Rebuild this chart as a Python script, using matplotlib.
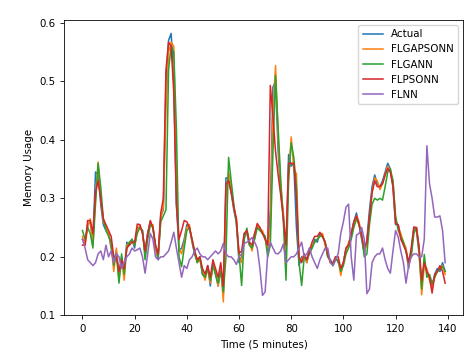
import numpy as np
import matplotlib
matplotlib.use("Agg")
import matplotlib.pyplot as plt

# values, one per 5-minute step
actual = [
    0.230, 0.225, 0.255, 0.260, 0.225, 0.345, 0.340, 0.290, 0.255, 0.245,
    0.240, 0.215, 0.190, 0.210, 0.170, 0.200, 0.175, 0.225, 0.220, 0.230,
    0.215, 0.250, 0.250, 0.245, 0.205, 0.240, 0.260, 0.250, 0.215, 0.195,
    0.270, 0.280, 0.500, 0.570, 0.582, 0.500, 0.290, 0.210, 0.215, 0.230,
    0.255, 0.250, 0.225, 0.205, 0.195, 0.200, 0.170, 0.165, 0.185, 0.150,
    0.190, 0.170, 0.150, 0.185, 0.135, 0.335, 0.335, 0.310, 0.280, 0.260,
    0.190, 0.200, 0.240, 0.240, 0.220, 0.215, 0.240, 0.250, 0.250, 0.240,
    0.235, 0.210, 0.280, 0.490, 0.500, 0.380, 0.310, 0.270, 0.200, 0.375,
    0.355, 0.360, 0.250, 0.185, 0.200, 0.200, 0.190, 0.215, 0.215, 0.230,
    0.225, 0.240, 0.235, 0.225, 0.200, 0.195, 0.185, 0.200, 0.190, 0.180,
    0.190, 0.215, 0.220, 0.240, 0.260, 0.275, 0.255, 0.230, 0.205, 0.230,
    0.280, 0.320, 0.340, 0.325, 0.320, 0.330, 0.345, 0.360, 0.350, 0.320,
    0.255, 0.255, 0.235, 0.225, 0.210, 0.180, 0.210, 0.250, 0.245, 0.205,
    0.150, 0.190, 0.175, 0.165, 0.150, 0.170, 0.180, 0.175, 0.190, 0.175,
]
flgapsonn = [
    0.235, 0.220, 0.250, 0.265, 0.220, 0.300, 0.362, 0.300, 0.260, 0.250,
    0.240, 0.220, 0.175, 0.215, 0.160, 0.195, 0.160, 0.220, 0.225, 0.225,
    0.220, 0.245, 0.255, 0.240, 0.210, 0.235, 0.255, 0.255, 0.210, 0.200,
    0.265, 0.285, 0.450, 0.550, 0.567, 0.560, 0.330, 0.215, 0.205, 0.225,
    0.250, 0.255, 0.225, 0.210, 0.190, 0.195, 0.175, 0.160, 0.180, 0.155,
    0.185, 0.175, 0.150, 0.180, 0.123, 0.300, 0.345, 0.320, 0.285, 0.265,
    0.200, 0.190, 0.235, 0.245, 0.225, 0.210, 0.235, 0.255, 0.245, 0.245,
    0.230, 0.215, 0.250, 0.450, 0.527, 0.400, 0.320, 0.275, 0.210, 0.340,
    0.405, 0.350, 0.342, 0.195, 0.195, 0.205, 0.190, 0.210, 0.220, 0.225,
    0.230, 0.235, 0.240, 0.220, 0.205, 0.190, 0.190, 0.195, 0.195, 0.168,
    0.190, 0.210, 0.225, 0.235, 0.255, 0.270, 0.260, 0.235, 0.210, 0.220,
    0.265, 0.310, 0.335, 0.330, 0.315, 0.325, 0.340, 0.355, 0.345, 0.330,
    0.265, 0.250, 0.240, 0.225, 0.215, 0.185, 0.205, 0.245, 0.250, 0.210,
    0.135, 0.185, 0.180, 0.160, 0.145, 0.165, 0.175, 0.180, 0.185, 0.170,
]
flgann = [
    0.245, 0.230, 0.250, 0.240, 0.215, 0.290, 0.360, 0.320, 0.265, 0.245,
    0.235, 0.225, 0.185, 0.205, 0.155, 0.205, 0.170, 0.215, 0.225, 0.230,
    0.220, 0.240, 0.250, 0.245, 0.195, 0.230, 0.255, 0.250, 0.220, 0.200,
    0.260, 0.270, 0.280, 0.520, 0.560, 0.550, 0.420, 0.200, 0.183, 0.215,
    0.245, 0.250, 0.230, 0.205, 0.190, 0.200, 0.170, 0.165, 0.180, 0.160,
    0.185, 0.170, 0.155, 0.175, 0.140, 0.200, 0.370, 0.330, 0.290, 0.255,
    0.205, 0.151, 0.230, 0.249, 0.220, 0.215, 0.230, 0.250, 0.245, 0.240,
    0.235, 0.200, 0.220, 0.380, 0.510, 0.420, 0.330, 0.260, 0.160, 0.330,
    0.395, 0.370, 0.320, 0.190, 0.151, 0.200, 0.195, 0.205, 0.215, 0.225,
    0.230, 0.235, 0.235, 0.225, 0.200, 0.195, 0.185, 0.195, 0.195, 0.175,
    0.185, 0.205, 0.215, 0.230, 0.250, 0.265, 0.255, 0.240, 0.200, 0.205,
    0.255, 0.290, 0.300, 0.297, 0.300, 0.297, 0.320, 0.345, 0.350, 0.330,
    0.270, 0.245, 0.235, 0.225, 0.210, 0.190, 0.200, 0.240, 0.250, 0.215,
    0.145, 0.204, 0.165, 0.170, 0.155, 0.165, 0.175, 0.180, 0.183, 0.175,
]
flpsonn = [
    0.220, 0.220, 0.262, 0.262, 0.240, 0.310, 0.330, 0.300, 0.265, 0.255,
    0.245, 0.235, 0.200, 0.200, 0.175, 0.195, 0.180, 0.215, 0.220, 0.225,
    0.225, 0.256, 0.255, 0.240, 0.210, 0.240, 0.262, 0.250, 0.220, 0.205,
    0.275, 0.300, 0.519, 0.567, 0.560, 0.480, 0.290, 0.230, 0.245, 0.262,
    0.260, 0.250, 0.230, 0.210, 0.195, 0.200, 0.180, 0.170, 0.185, 0.165,
    0.195, 0.180, 0.165, 0.190, 0.150, 0.325, 0.330, 0.310, 0.285, 0.265,
    0.206, 0.210, 0.240, 0.245, 0.225, 0.220, 0.240, 0.257, 0.250, 0.240,
    0.230, 0.220, 0.493, 0.440, 0.380, 0.340, 0.305, 0.265, 0.220, 0.360,
    0.360, 0.360, 0.300, 0.200, 0.190, 0.205, 0.195, 0.210, 0.225, 0.235,
    0.235, 0.242, 0.235, 0.225, 0.205, 0.190, 0.190, 0.200, 0.200, 0.180,
    0.190, 0.215, 0.220, 0.240, 0.260, 0.270, 0.255, 0.235, 0.215, 0.225,
    0.270, 0.310, 0.330, 0.320, 0.320, 0.325, 0.340, 0.351, 0.345, 0.320,
    0.257, 0.255, 0.230, 0.220, 0.210, 0.190, 0.215, 0.251, 0.250, 0.217,
    0.160, 0.190, 0.175, 0.165, 0.138, 0.170, 0.175, 0.185, 0.175, 0.155,
]
flnn = [
    0.230, 0.215, 0.195, 0.190, 0.185, 0.190, 0.205, 0.210, 0.195, 0.220,
    0.200, 0.210, 0.190, 0.205, 0.200, 0.180, 0.190, 0.200, 0.205, 0.215,
    0.210, 0.212, 0.215, 0.200, 0.172, 0.205, 0.240, 0.230, 0.200, 0.195,
    0.200, 0.200, 0.205, 0.210, 0.225, 0.242, 0.215, 0.190, 0.165, 0.185,
    0.180, 0.195, 0.200, 0.210, 0.215, 0.205, 0.200, 0.200, 0.195, 0.200,
    0.205, 0.210, 0.205, 0.210, 0.223, 0.205, 0.200, 0.200, 0.195, 0.187,
    0.200, 0.205, 0.223, 0.225, 0.228, 0.233, 0.225, 0.215, 0.180, 0.134,
    0.140, 0.205, 0.225, 0.215, 0.206, 0.205, 0.210, 0.222, 0.190, 0.195,
    0.200, 0.200, 0.205, 0.215, 0.225, 0.200, 0.205, 0.215, 0.200, 0.190,
    0.180, 0.195, 0.205, 0.215, 0.215, 0.190, 0.185, 0.195, 0.205, 0.240,
    0.260, 0.285, 0.290, 0.200, 0.160, 0.237, 0.240, 0.250, 0.230, 0.137,
    0.145, 0.190, 0.200, 0.205, 0.205, 0.215, 0.195, 0.180, 0.172, 0.210,
    0.245, 0.234, 0.210, 0.190, 0.155, 0.185, 0.200, 0.205, 0.205, 0.200,
    0.200, 0.230, 0.390, 0.325, 0.300, 0.268, 0.268, 0.270, 0.245, 0.190,
]

series = [
    ("Actual", actual),
    ("FLGAPSONN", flgapsonn),
    ("FLGANN", flgann),
    ("FLPSONN", flpsonn),
    ("FLNN", flnn),
]

# reference is a 640x480 default figure shrunk to ~74%, so scale the defaults
s = 0.74
plt.rcParams.update({
    "font.size": 10 * s,
    "lines.linewidth": 1.5 * s,
    "axes.linewidth": 0.8 * s,
    "xtick.major.size": 3.5 * s,
    "ytick.major.size": 3.5 * s,
    "xtick.major.width": 0.8 * s,
    "ytick.major.width": 0.8 * s,
    "legend.fontsize": 10 * s,
})

fig, ax = plt.subplots(figsize=(4.74, 3.58), dpi=100)
fig.subplots_adjust(left=0.1357, right=0.9774, bottom=0.1193, top=0.9441)

t = np.arange(len(actual))
for name, vals in series:
    ax.plot(t, vals, label=name)

ax.set_ylim(bottom=0.1)
ax.set_xlabel("Time (5 minutes)")
ax.set_ylabel("Memory Usage")
ax.legend(loc="upper right")

plt.savefig("out.png", dpi=100)
